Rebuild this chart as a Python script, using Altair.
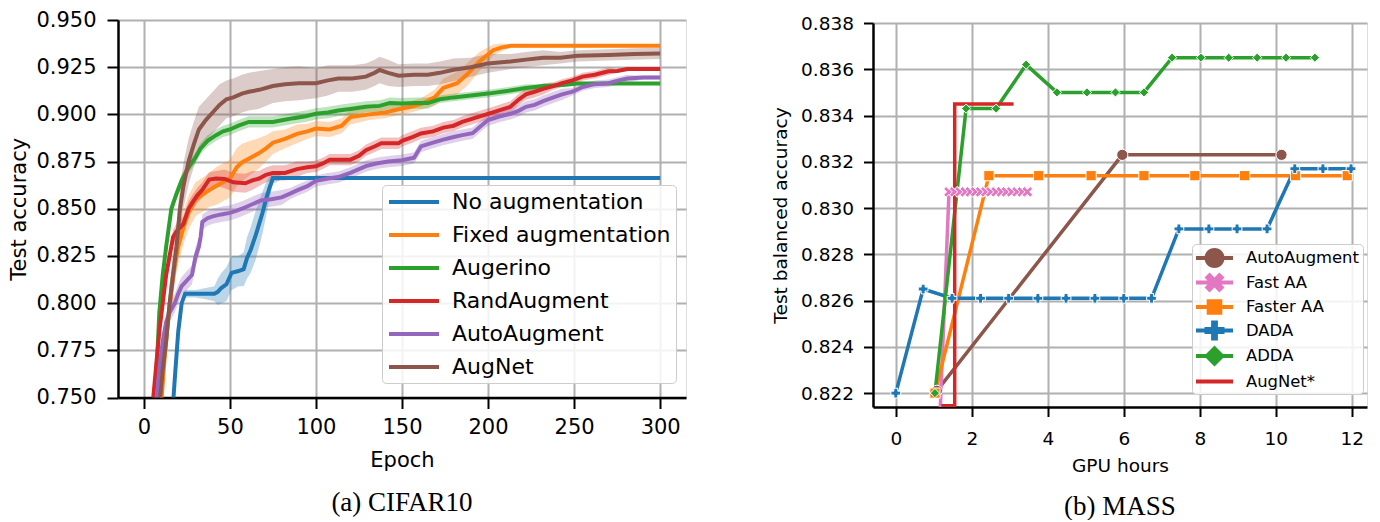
import math
import altair as alt
import pandas as pd

# ---------------- (a) CIFAR10 : (epoch, test accuracy, band half-width) ----------------
LEFT_NAMES = ["No augmentation", "Fixed augmentation", "Augerino", "RandAugment", "AutoAugment", "AugNet"]
LEFT_COLORS = ["#1f77b4", "#ff7f0e", "#2ca02c", "#d62728", "#9467bd", "#8c564b"]

NO_AUG = [(16.5, 0.740, 0.002), (18, 0.760, 0.003), (20, 0.785, 0.003), (22, 0.800, 0.003), (24, 0.805, 0.002),
          (30, 0.805, 0.002), (36, 0.805, 0.003), (41, 0.805, 0.004), (43, 0.806, 0.007), (45, 0.808, 0.008),
          (48, 0.810, 0.009), (51, 0.816, 0.009), (55, 0.817, 0.008), (58, 0.818, 0.009), (60, 0.824, 0.011),
          (62, 0.828, 0.012), (65, 0.836, 0.013), (67, 0.842, 0.012), (69, 0.848, 0.011), (71, 0.855, 0.009),
          (73, 0.861, 0.006), (75, 0.8663, 0.003), (80, 0.8663, 0.001), (300, 0.8663, 0.0005)]

FIXED_AUG = [(10, 0.745, 0.004), (12, 0.770, 0.006), (14, 0.790, 0.008), (17, 0.815, 0.009), (20, 0.830, 0.009),
             (23, 0.840, 0.009), (26, 0.848, 0.009), (30, 0.855, 0.009), (35, 0.858, 0.009), (38, 0.860, 0.009),
             (42, 0.862, 0.010), (46, 0.864, 0.010), (50, 0.866, 0.010), (54, 0.872, 0.010), (57, 0.8745, 0.010),
             (62, 0.877, 0.009), (67, 0.8795, 0.008), (71, 0.882, 0.007), (75, 0.885, 0.006), (82, 0.887, 0.005),
             (89, 0.8897, 0.005), (95, 0.891, 0.004), (100, 0.8925, 0.004), (108, 0.892, 0.004), (115, 0.894, 0.004),
             (120, 0.8986, 0.004), (131, 0.900, 0.003), (140, 0.901, 0.003), (148, 0.9027, 0.003), (155, 0.904, 0.003),
             (161, 0.9055, 0.003), (169, 0.909, 0.004), (174, 0.914, 0.005), (182, 0.9165, 0.006), (188, 0.9213, 0.006),
             (195, 0.928, 0.005), (203, 0.934, 0.003), (208, 0.9355, 0.002), (213, 0.9363, 0.001), (300, 0.9363, 0.0005)]

AUGERINO = [(7, 0.760, 0.002), (8, 0.775, 0.003), (9, 0.795, 0.003), (11, 0.815, 0.003), (13, 0.830, 0.003),
            (16, 0.850, 0.003), (19, 0.858, 0.003), (22, 0.865, 0.003), (26, 0.872, 0.003), (30, 0.877, 0.003),
            (33, 0.882, 0.003), (37, 0.886, 0.003), (42, 0.889, 0.003), (46, 0.891, 0.003), (50, 0.892, 0.003),
            (55, 0.894, 0.003), (61, 0.896, 0.003), (68, 0.896, 0.003), (75, 0.896, 0.003), (81, 0.897, 0.003),
            (87, 0.898, 0.003), (94, 0.899, 0.003), (100, 0.9003, 0.003), (107, 0.901, 0.003), (113, 0.902, 0.003),
            (121, 0.903, 0.003), (129, 0.904, 0.003), (137, 0.9045, 0.003), (143, 0.906, 0.003), (150, 0.9057, 0.003),
            (158, 0.906, 0.003), (165, 0.906, 0.003), (172, 0.908, 0.002), (180, 0.909, 0.002), (190, 0.910, 0.002),
            (200, 0.911, 0.002), (212, 0.9125, 0.002), (222, 0.914, 0.002), (232, 0.915, 0.001), (243, 0.9155, 0.001),
            (252, 0.9163, 0.001), (300, 0.9163, 0.0005)]

RAND_AUG = [(5, 0.745, 0.003), (7, 0.765, 0.003), (9, 0.785, 0.004), (11, 0.800, 0.004), (13, 0.815, 0.004),
            (15, 0.825, 0.004), (17, 0.835, 0.004), (19, 0.838, 0.004), (21, 0.840, 0.004), (23, 0.842, 0.004),
            (26, 0.850, 0.004), (28, 0.853, 0.004), (31, 0.857, 0.004), (34, 0.860, 0.004), (38, 0.8655, 0.004),
            (42, 0.866, 0.004), (47, 0.8658, 0.005), (52, 0.864, 0.005), (59, 0.8635, 0.005), (63, 0.865, 0.005),
            (67, 0.866, 0.004), (71, 0.868, 0.004), (75, 0.869, 0.004), (82, 0.869, 0.004), (89, 0.871, 0.004),
            (95, 0.872, 0.003), (100, 0.8725, 0.003), (104, 0.874, 0.003), (108, 0.876, 0.003), (114, 0.876, 0.003),
            (120, 0.876, 0.003), (125, 0.878, 0.003), (129, 0.881, 0.003), (134, 0.883, 0.003), (138, 0.8847, 0.003),
            (148, 0.8847, 0.003), (150, 0.886, 0.003), (156, 0.888, 0.003), (161, 0.8899, 0.003), (168, 0.891, 0.003),
            (174, 0.893, 0.003), (180, 0.894, 0.003), (185, 0.896, 0.003), (192, 0.898, 0.003), (200, 0.9003, 0.003),
            (206, 0.902, 0.003), (213, 0.904, 0.003), (218, 0.908, 0.003), (222, 0.9106, 0.003), (227, 0.912, 0.003),
            (232, 0.9135, 0.003), (238, 0.915, 0.002), (243, 0.9166, 0.002), (249, 0.918, 0.002), (255, 0.920, 0.002),
            (262, 0.921, 0.002), (270, 0.9228, 0.002), (275, 0.923, 0.001), (281, 0.924, 0.001), (300, 0.924, 0.001)]

AUTO_AUG = [(7, 0.745, 0.003), (9, 0.765, 0.004), (11, 0.780, 0.005), (13, 0.790, 0.005), (15, 0.795, 0.005),
            (18, 0.800, 0.005), (20, 0.805, 0.005), (22, 0.809, 0.005), (25, 0.812, 0.005), (28, 0.815, 0.005),
            (30, 0.8245, 0.005), (32, 0.830, 0.005), (33, 0.835, 0.005), (34, 0.843, 0.004), (37, 0.845, 0.004),
            (40, 0.846, 0.004), (45, 0.847, 0.004), (50, 0.8478, 0.004), (54, 0.849, 0.004), (57, 0.850, 0.004),
            (62, 0.852, 0.004), (68, 0.8544, 0.004), (74, 0.855, 0.004), (80, 0.856, 0.004), (85, 0.858, 0.003),
            (89, 0.8597, 0.003), (95, 0.862, 0.003), (100, 0.8648, 0.003), (107, 0.866, 0.003), (113, 0.8668, 0.003),
            (120, 0.869, 0.003), (129, 0.8726, 0.003), (135, 0.874, 0.003), (142, 0.875, 0.003), (150, 0.8757, 0.003),
            (157, 0.877, 0.003), (161, 0.883, 0.003), (168, 0.885, 0.003), (174, 0.8866, 0.003), (180, 0.888, 0.003),
            (185, 0.889, 0.003), (191, 0.890, 0.003), (196, 0.894, 0.003), (200, 0.897, 0.003), (207, 0.899, 0.003),
            (213, 0.9003, 0.003), (218, 0.902, 0.003), (222, 0.904, 0.003), (227, 0.905, 0.003), (232, 0.907, 0.003),
            (238, 0.909, 0.003), (243, 0.9106, 0.003), (249, 0.912, 0.002), (255, 0.9145, 0.002), (262, 0.916, 0.002),
            (270, 0.9165, 0.002), (276, 0.918, 0.002), (281, 0.919, 0.002), (290, 0.9195, 0.001), (300, 0.9196, 0.001)]

AUGNET = [(9, 0.745, 0.006), (11, 0.765, 0.008), (13, 0.780, 0.010), (15, 0.800, 0.011), (17, 0.815, 0.012),
          (19, 0.830, 0.012), (21, 0.850, 0.012), (23, 0.862, 0.012), (26, 0.875, 0.012), (29, 0.884, 0.012),
          (32, 0.892, 0.012), (36, 0.897, 0.011), (40, 0.901, 0.011), (44, 0.905, 0.011), (48, 0.908, 0.010),
          (52, 0.909, 0.010), (57, 0.911, 0.010), (61, 0.912, 0.010), (67, 0.913, 0.010), (75, 0.915, 0.009),
          (82, 0.916, 0.009), (90, 0.9165, 0.009), (100, 0.9165, 0.008), (107, 0.918, 0.008), (113, 0.919, 0.007),
          (121, 0.919, 0.007), (129, 0.920, 0.007), (134, 0.922, 0.007), (137, 0.9235, 0.007), (142, 0.922, 0.007),
          (148, 0.9205, 0.006), (157, 0.921, 0.006), (165, 0.921, 0.006), (172, 0.922, 0.006), (180, 0.9236, 0.006),
          (190, 0.925, 0.005), (200, 0.927, 0.005), (213, 0.928, 0.004), (222, 0.929, 0.004), (232, 0.930, 0.004),
          (242, 0.930, 0.003), (252, 0.931, 0.003), (270, 0.9315, 0.003), (285, 0.932, 0.003), (300, 0.9323, 0.003)]

LEFT_SERIES = [NO_AUG, FIXED_AUG, AUGERINO, RAND_AUG, AUTO_AUG, AUGNET]
LEFT_X_TICKS = [0, 50, 100, 150, 200, 250, 300]
LEFT_Y_TICKS = [0.750, 0.775, 0.800, 0.825, 0.850, 0.875, 0.900, 0.925, 0.950]

# ---------------- (b) MASS : GPU hours vs balanced accuracy ----------------
RIGHT_NAMES = ["AutoAugment", "Fast AA", "Faster AA", "DADA", "ADDA", "AugNet*"]
RIGHT_COLORS = ["#8c564b", "#e377c2", "#ff7f0e", "#1f77b4", "#2ca02c", "#d62728"]

AA_HOURS = [1.08, 5.96, 10.15]
AA_ACC = [0.8221, 0.8323, 0.8323]
FAST_HOURS = [1.15, 1.40, 1.55, 1.69, 1.83, 1.96, 2.10, 2.23, 2.37, 2.50, 2.64, 2.78, 2.91, 3.05, 3.19, 3.33, 3.46]
FAST_ACC = [0.8205, 0.8307, 0.8307, 0.8307, 0.8307, 0.8307, 0.8307, 0.8307, 0.8307, 0.8307, 0.8307, 0.8307,
            0.8307, 0.8307, 0.8307, 0.8307, 0.8307]
FASTER_HOURS = [1.03, 2.45, 3.76, 5.14, 6.53, 7.87, 9.18, 10.52, 11.88]
FASTER_ACC = [0.8220, 0.8314, 0.8314, 0.8314, 0.8314, 0.8314, 0.8314, 0.8314, 0.8314]
DADA_HOURS = [0.0, 0.72, 1.48, 2.23, 2.97, 3.74, 4.48, 5.24, 6.0, 6.73, 7.45, 8.24, 8.98, 9.77, 10.5, 11.24, 11.98]
DADA_ACC = [0.8220, 0.8265, 0.8261, 0.8261, 0.8261, 0.8261, 0.8261, 0.8261, 0.8261, 0.8261, 0.8291, 0.8291,
            0.8291, 0.8291, 0.8317, 0.8317, 0.8317]
ADDA_HOURS = [1.03, 1.85, 2.64, 3.43, 4.24, 5.03, 5.78, 6.53, 7.27, 8.03, 8.76, 9.51, 10.27, 11.03]
ADDA_ACC = [0.8220, 0.8343, 0.8343, 0.8362, 0.8350, 0.8350, 0.8350, 0.8350, 0.8365, 0.8365, 0.8365, 0.8365,
            0.8365, 0.8365]
AUGNETS_HOURS = [1.20, 1.55, 1.55, 3.10]
AUGNETS_ACC = [0.82145, 0.82145, 0.8345, 0.8345]

RIGHT_SERIES = [(AA_HOURS, AA_ACC), (FAST_HOURS, FAST_ACC), (FASTER_HOURS, FASTER_ACC),
                (DADA_HOURS, DADA_ACC), (ADDA_HOURS, ADDA_ACC), (AUGNETS_HOURS, AUGNETS_ACC)]
RIGHT_X_TICKS = [0, 2, 4, 6, 8, 10, 12]
RIGHT_Y_TICKS = [0.822, 0.824, 0.826, 0.828, 0.830, 0.832, 0.834, 0.836, 0.838]


# ---------------- marker shapes (SVG paths) ----------------
def _poly(pts, dx=0.0):
    pts = [(x + dx, y) for x, y in pts]
    area = sum(pts[i][0] * pts[(i + 1) % len(pts)][1] - pts[(i + 1) % len(pts)][0] * pts[i][1]
               for i in range(len(pts)))
    if area < 0:
        pts = pts[::-1]
    return "M" + " L".join(f"{x:.4f},{y:.4f}" for x, y in pts) + " Z"


def circle_pts(r, n=36):
    return [(r * math.cos(2 * math.pi * k / n), r * math.sin(2 * math.pi * k / n)) for k in range(n)]


def plus_pts(r, a):
    return [(-r, -a), (-a, -a), (-a, -r), (a, -r), (a, -a), (r, -a), (r, a), (a, a), (a, r), (-a, r), (-a, a), (-r, a)]


def x_pts(ext, a):
    r = ext * math.sqrt(2) - a
    c = 1 / math.sqrt(2)
    return [((x - y) * c, (x + y) * c) for x, y in plus_pts(r, a)]


def square_pts(h):
    return [(-h, -h), (h, -h), (h, h), (-h, h)]


def diamond_pts(h):
    return [(0, -h), (h, 0), (0, h), (-h, 0)]


# legend symbols: unit = 10 px (symbolSize 400); bar 37 px long, marker centred on it
LEG_C = 0.85
BAR = _poly([(-1.0, -0.2), (2.7, -0.2), (2.7, 0.2), (-1.0, 0.2)])
LEGEND_SHAPES = [BAR + " " + _poly(circle_pts(1.0), LEG_C),
                 BAR + " " + _poly(x_pts(1.0, 0.36), LEG_C),
                 BAR + " " + _poly(square_pts(0.78), LEG_C),
                 BAR + " " + _poly(plus_pts(1.0, 0.34), LEG_C),
                 BAR + " " + _poly(diamond_pts(1.05), LEG_C),
                 BAR]
LEFT_LEGEND_LINE = "M-1,0 L4,0"   # 50 px stroke with symbolSize 400

PLOT_X_SHAPE = _poly(x_pts(1.0, 0.32))
MARKER_NAMES = RIGHT_NAMES[:5]
MARKER_SHAPES = ["circle", PLOT_X_SHAPE, "square", "cross", "diamond"]
MARKER_SIZES = [125, 85, 70, 115, 115]

FONT = "DejaVu Sans"

# ---------------- tables ----------------
left_rows = []
for name, series in zip(LEFT_NAMES, LEFT_SERIES):
    for i, (e, a, s) in enumerate(series):
        left_rows.append({"method": name, "epoch": e, "acc": a, "lo": a - s, "hi": a + s, "idx": i})
left_df = pd.DataFrame(left_rows)

right_rows = []
for name, (hs, accs) in zip(RIGHT_NAMES, RIGHT_SERIES):
    for i, (h, a) in enumerate(zip(hs, accs)):
        right_rows.append({"method": name, "hours": h, "acc": a, "idx": i})
right_df = pd.DataFrame(right_rows)
marker_df = right_df[right_df["method"].isin(MARKER_NAMES)]
legend_df = pd.DataFrame({"label": RIGHT_NAMES})


def axis(title, values, fmt, fs, tick, lpad, tpad):
    return alt.Axis(title=title, values=values, format=fmt, labelFont=FONT, titleFont=FONT,
                    labelFontSize=fs, titleFontSize=fs, titleFontWeight="normal",
                    labelColor="black", titleColor="black", tickColor="black", tickSize=tick,
                    tickWidth=2, domainColor="black", domainWidth=2.5, gridColor="#b0b0b0",
                    gridWidth=2, labelPadding=lpad, titlePadding=tpad)


# ---------------- left panel ----------------
lx_scale = alt.Scale(domain=[-15, 315], nice=False, zero=False)
ly_scale = alt.Scale(domain=[0.75, 0.95], nice=False, zero=False)
lcolor = alt.Scale(domain=LEFT_NAMES, range=LEFT_COLORS)

lx = alt.X("epoch:Q", scale=lx_scale, axis=axis("Epoch", LEFT_X_TICKS, "d", 21, 11, 8, 12))
ly_axis = axis("Test accuracy", LEFT_Y_TICKS, ".3f", 21, 11, 11, 6)

bands = alt.Chart(left_df).mark_area(opacity=0.3, clip=True).encode(
    x=lx,
    y=alt.Y("lo:Q", scale=ly_scale, axis=ly_axis),
    y2="hi:Q",
    color=alt.Color("method:N", scale=lcolor, legend=None),
)

lines = alt.Chart(left_df).mark_line(strokeWidth=4, clip=True).encode(
    x=lx,
    y=alt.Y("acc:Q", scale=ly_scale, axis=ly_axis),
    order="idx:Q",
    color=alt.Color("method:N", scale=lcolor, sort=LEFT_NAMES,
                    legend=alt.Legend(title=None, orient="none", legendX=264, legendY=165,
                                      symbolType=LEFT_LEGEND_LINE, symbolSize=400, symbolStrokeWidth=4,
                                      labelFont=FONT, labelFontSize=22, labelColor="black",
                                      labelOffset=41, labelLimit=400, rowPadding=10, padding=5,
                                      strokeColor="#cccccc", fillColor="rgba(255,255,255,0.85)",
                                      cornerRadius=4)),
)

left = alt.layer(bands, lines).resolve_legend(color="independent").properties(
    width=568, height=377.5,
    title=alt.TitleParams("(a) CIFAR10", orient="bottom", anchor="middle", frame="group",
                          font="Liberation Serif", fontSize=27, fontWeight="normal", color="black",
                          offset=19),
)

# ---------------- right panel ----------------
rx_scale = alt.Scale(domain=[-0.6, 12.4], nice=False, zero=False)
ry_scale = alt.Scale(domain=[0.8214, 0.838], nice=False, zero=False)
rx = alt.X("hours:Q", scale=rx_scale, axis=axis("GPU hours", RIGHT_X_TICKS, "d", 18.5, 9.5, 13, 8))
ry = alt.Y("acc:Q", scale=ry_scale, axis=axis("Test balanced accuracy", RIGHT_Y_TICKS, ".3f", 18.5, 9.5, 10, 10))

rlines = alt.Chart(right_df).mark_line(strokeWidth=3.5, clip=True).encode(
    x=rx, y=ry, order="idx:Q",
    color=alt.Color("method:N", scale=alt.Scale(domain=RIGHT_NAMES, range=RIGHT_COLORS), legend=None),
)

rpoints = alt.Chart(marker_df).mark_point(filled=True, opacity=1, stroke="white", strokeWidth=1, clip=True).encode(
    x=rx, y=ry,
    color=alt.Color("method:N", scale=alt.Scale(domain=RIGHT_NAMES, range=RIGHT_COLORS), legend=None),
    shape=alt.Shape("method:N", scale=alt.Scale(domain=MARKER_NAMES, range=MARKER_SHAPES), legend=None),
    size=alt.Size("method:N", scale=alt.Scale(domain=MARKER_NAMES, range=MARKER_SIZES), legend=None),
)

rlegend_props = dict(title=None, orient="none", legendX=319, legendY=221, symbolSize=400,
                     symbolStrokeWidth=0, labelFont=FONT, labelFontSize=16.4, labelColor="black",
                     labelOffset=30, labelLimit=400, rowPadding=4.5, padding=4,
                     strokeColor="#cccccc", fillColor="rgba(255,255,255,0.85)", cornerRadius=4)

rlegend = alt.Chart(legend_df).mark_point(filled=True, opacity=1, clip=True).encode(
    x=alt.value(-300), y=alt.value(-300),
    color=alt.Color("label:N", scale=alt.Scale(domain=RIGHT_NAMES, range=RIGHT_COLORS),
                    sort=RIGHT_NAMES, legend=alt.Legend(**rlegend_props)),
    shape=alt.Shape("label:N", scale=alt.Scale(domain=RIGHT_NAMES, range=LEGEND_SHAPES),
                    sort=RIGHT_NAMES, legend=alt.Legend(**rlegend_props)),
)

right = alt.layer(rlines, rpoints, rlegend).resolve_scale(
    color="independent", shape="independent", size="independent"
).properties(
    width=494, height=384,
    title=alt.TitleParams("(b) MASS", orient="bottom", anchor="middle", frame="group",
                          font="Liberation Serif", fontSize=27, fontWeight="normal", color="black",
                          offset=19),
)

# small empty strip that lowers the right panel a little, as in the reference
spacer = alt.Chart(pd.DataFrame({"s": [0]})).mark_text(text=" ", fontSize=1).encode(
    x=alt.value(0), y=alt.value(0)
).properties(width=494, height=2.5, view=alt.ViewConfig(strokeOpacity=0))

right_col = alt.vconcat(spacer, right, spacing=0, bounds="flush")

chart = alt.hconcat(left, right_col, spacing=84).properties(
    padding={"left": 0, "top": 0, "right": 0, "bottom": 0}
).configure_view(stroke="black", strokeWidth=2.5).configure(background="white")

chart.save("out.html", embed_options={"renderer": "svg", "actions": False})
